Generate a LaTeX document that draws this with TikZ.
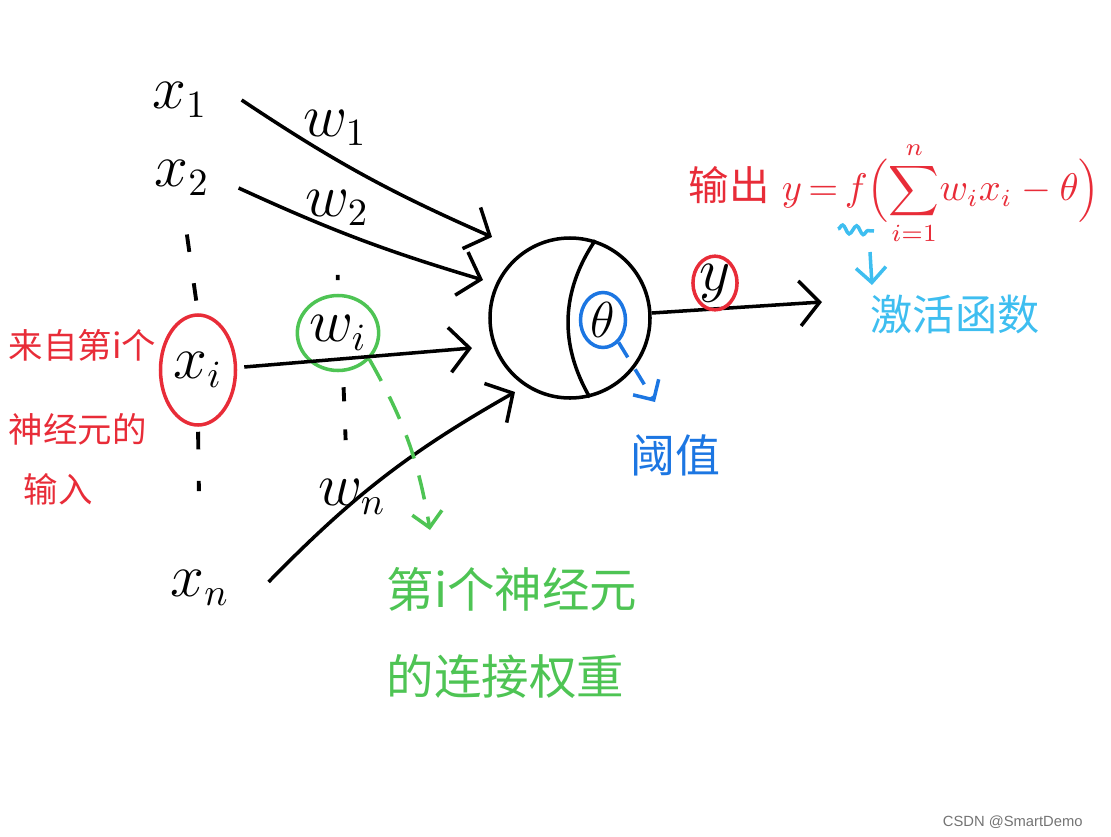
\documentclass[tikz,border=0pt]{standalone}
\usepackage{fontspec}
\newfontfamily\cjk{Noto Sans CJK SC}
\newfontfamily\markfont{Liberation Sans}
\usepackage{tikz}
\usetikzlibrary{arrows.meta, positioning, shapes.geometric, calc, decorations.pathmorphing}
\definecolor{inred}{RGB}{232,44,56}
\definecolor{wgreen}{RGB}{78,196,84}
\definecolor{thblue}{RGB}{28,118,226}
\definecolor{actcyan}{RGB}{62,190,240}
\tikzset{
  varlbl/.style={font=\fontsize{16}{19}\selectfont, text=black, inner sep=1pt},
  notelbl/.style={font=\cjk\fontsize{#1}{#1}\selectfont, align=left, inner sep=0pt},
  ringbox/.style={ellipse, draw=#1, line width=1pt, inner sep=0pt},
  myarrow/.style={-{Straight Barb[length=2mm, width=4.5mm]}, line width=1pt},
  dasharrow/.style={-{Straight Barb[length=1.5mm, width=3mm]}, line width=1pt, dash pattern=on 7pt off 5pt},
  dotline/.style={line width=1.1pt, dash pattern=on 5pt off 9pt},
}

\begin{document}
\begin{tikzpicture}
  \useasboundingbox (0,0) rectangle (11.11,8.36);
  % inputs
  \node[varlbl] (x1) at (1.80,7.36) {$x_1$};
  \node[varlbl] (x2) at (1.82,6.58) {$x_2$};
  \node[varlbl, ringbox=inred, minimum width=0.75cm, minimum height=1.1cm] (xi) at (1.98,4.66) {$x_i$};
  \node[varlbl] (xn) at (2.00,2.48) {$x_n$};
  \draw[dotline, shorten <=0.35cm, shorten >=0.12cm] (x2.south) -- (xi.north);
  \draw[dotline, shorten <=0.05cm, shorten >=0.75cm] (xi.south) -- (xn.north);
  % weights
  \node[varlbl] (w1) at (3.35,7.08) {$w_1$};
  \node[varlbl] (w2) at (3.37,6.28) {$w_2$};
  \node[varlbl, ringbox=wgreen, minimum width=0.6cm, minimum height=0.75cm] (wi) at (3.38,5.03) {$w_i$};
  \node[varlbl] (wn) at (3.52,3.39) {$w_n$};
  \draw[dotline, dash pattern=on 1.5pt off 4.5pt, shorten <=0.45cm, shorten >=0.05cm] (w2.south) -- (wi.north);
  \draw[dotline, dash pattern=on 4pt off 8pt, shorten <=0.15cm, shorten >=0.35cm] ([xshift=0.05cm]wi.south) -- ([xshift=-0.05cm]wn.north);
  % neuron
  \node[draw, circle, line width=1pt, minimum size=1.6cm] (neuron) at (5.70,5.18) {};
  \draw[line width=1pt] (neuron.72) to[bend right=32] (neuron.-76);
  \node[varlbl, font=\fontsize{14}{16}\selectfont, ringbox=thblue, minimum width=0.45cm, minimum height=0.55cm] (theta) at (6.03,5.16) {$\theta$};
  % input connectors
  \coordinate (tip1) at (4.92,5.99);
  \coordinate (tip2) at (4.83,5.56);
  \coordinate (tipi) at (4.72,4.88);
  \coordinate (tipn) at (5.15,4.44);
  \draw[myarrow] ([xshift=0.3cm]x1.east) to[bend right=5] (tip1);
  \draw[myarrow] ([xshift=0.25cm, yshift=-0.1cm]x2.east) to[bend right=4] (tip2);
  \draw[myarrow] ([xshift=0.07cm, yshift=0.03cm]xi.east) -- (tipi);
  \draw[myarrow] ([xshift=0.35cm, yshift=0.06cm]xn.east) to[bend left=8] (tipn);
  % output
  \coordinate (outend) at (8.22,5.34);
  \draw[myarrow] ([yshift=0.05cm]neuron.east) -- (outend);
  \node[varlbl, ringbox=inred, minimum width=0.42cm, minimum height=0.52cm] (yout) at (7.15,5.53) {$y$};
  % notes
  \node[notelbl=9.8, text=inred, anchor=west, text width=1.7cm] (innote) at (0.08,4.19)
    {来自第i个\\[0.5cm]神经元的\\[0.25cm]\hspace{0.15cm}输入};
  \node[notelbl=13.5, text=wgreen, anchor=west] (wnote) at (3.86,2.03)
    {第i个神经元\\[0.4cm]的连接权重};
  \coordinate (gtip) at (4.30,3.06);
  \draw[dasharrow, wgreen] (wi.-40) to[bend left=10] (gtip);
  \node[notelbl=12.8, text=thblue] (thnote) at (6.75,3.81) {阈值};
  \coordinate (btip) at (6.55,4.34);
  \draw[dasharrow, thblue, dash pattern=on 5pt off 4pt] (theta.-55) -- (btip);
  % formula
  \node[anchor=west, text=inred, inner sep=0pt, font=\fontsize{10.5}{13}\selectfont] (formula) at (6.88,6.43)
    {{\cjk\fontsize{11.5}{14}\selectfont 输出}\ $y\,{=}\,f\Bigl(\displaystyle\sum_{i=1}^{n}\! w_i x_i-\theta\Bigr)$};
  \coordinate (sqa) at (8.38,6.07);
  \coordinate (sqb) at (8.74,6.05);
  \draw[actcyan, line width=1pt, decorate, decoration={snake, segment length=4pt, amplitude=1.2pt}] (sqa) -- (sqb);
  \node[notelbl=12, text=actcyan] (actnote) at (9.55,5.21) {激活函数};
  \coordinate (actfrom) at (8.70,5.84);
  \coordinate (acttip) at (8.72,5.51);
  \draw[actcyan, line width=1pt, -{Straight Barb[length=1.5mm, width=3mm]}] (actfrom) -- (acttip);
  % watermark
  \node[anchor=east, text=black!55, font=\markfont\fontsize{4.2}{5}\selectfont] (mark) at (10.95,0.14) {CSDN @SmartDemo};
\end{tikzpicture}
\end{document}
